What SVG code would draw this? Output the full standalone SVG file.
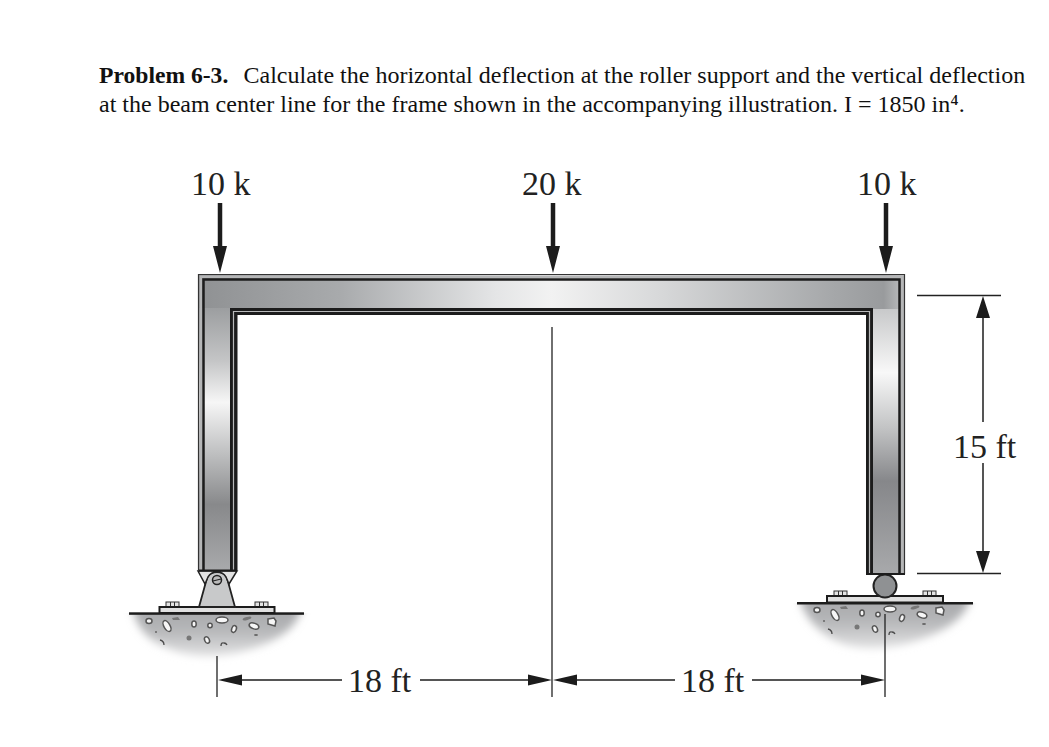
<svg xmlns="http://www.w3.org/2000/svg" width="1049" height="747" viewBox="0 0 1049 747">
<style>
text{font-family:"Liberation Serif","Times New Roman",serif;fill:#111}
.p{font-size:24px}
.b{font-size:23.6px;font-weight:bold}
.l{font-size:34px;fill:#222}
.d{stroke:#222;stroke-width:1.300;fill:none}
.dg{stroke:#555;stroke-width:2;fill:none}
.load{stroke:#1c1c1c;stroke-width:4.500;fill:none}
.ah{fill:#1c1c1c}
.st{fill:none;stroke:#4a4a4a;stroke-width:1.300}
.stf{fill:#f6f6f6;stroke:#555;stroke-width:1.500}
.bk{fill:#1c1c1c}
.bolt{fill:#e4e4e4;stroke:#333;stroke-width:1}
.soil{fill:url(#soilg);filter:url(#blur)}
</style>
<defs>
<linearGradient id="beam" x1="0" x2="1" y1="0" y2="0">
<stop offset="0" stop-color="#8f9193"/><stop offset=".2" stop-color="#a8aaac"/><stop offset=".42" stop-color="#e4e5e6"/><stop offset=".5" stop-color="#f2f2f2"/><stop offset=".65" stop-color="#d8d9da"/><stop offset=".9" stop-color="#a5a7a9"/><stop offset=".97" stop-color="#999b9d"/><stop offset="1" stop-color="#c0c1c2"/>
</linearGradient>
<linearGradient id="colL" gradientUnits="userSpaceOnUse" x1="0" x2="0" y1="308" y2="570">
<stop offset="0" stop-color="#9c9ea0"/><stop offset=".2" stop-color="#c4c5c6"/><stop offset=".36" stop-color="#f6f6f6"/><stop offset=".55" stop-color="#c0c1c2"/><stop offset=".75" stop-color="#88898b"/><stop offset="1" stop-color="#a8a9ab"/>
</linearGradient>
<linearGradient id="colR" gradientUnits="userSpaceOnUse" x1="0" x2="0" y1="309" y2="574">
<stop offset="0" stop-color="#c8c9ca"/><stop offset=".24" stop-color="#f8f8f8"/><stop offset=".45" stop-color="#c2c3c4"/><stop offset=".65" stop-color="#86878a"/><stop offset="1" stop-color="#a8a9ab"/>
</linearGradient>
<linearGradient id="soilg" x1="0" x2="0" y1="0" y2="1">
<stop offset="0" stop-color="#a4a5a8"/><stop offset=".5" stop-color="#b6b7b9"/><stop offset="1" stop-color="#e2e2e3"/>
</linearGradient>
<filter id="blur" x="-10%" y="-30%" width="120%" height="160%"><feGaussianBlur stdDeviation="4"/></filter>
<clipPath id="clipL"><rect x="120" y="613" width="195" height="60"/></clipPath>
<clipPath id="clipR"><rect x="790" y="603" width="195" height="60"/></clipPath>
<g id="stones">
<ellipse class="stf" cx="29" cy="91" rx="3" ry="2.500"/>
<ellipse class="stf" cx="47" cy="96" rx="3" ry="6" transform="rotate(-30 47 96)"/>
<path d="M52 88l6-1 2 3-7 0z" fill="#777"/>
<ellipse class="stf" cx="74" cy="94" rx="2.200" ry="3"/>
<circle class="stf" cx="90" cy="95.500" r="2.200"/>
<ellipse class="stf" cx="102" cy="90" rx="6" ry="3"/>
<ellipse class="stf" cx="114" cy="99" rx="2.300" ry="3.500" transform="rotate(20 114 99)"/>
<ellipse cx="127" cy="88.500" rx="4.500" ry="1.500" fill="#777" transform="rotate(-15 127 88.500)"/>
<ellipse class="stf" cx="134" cy="96" rx="5" ry="2.800" transform="rotate(20 134 96)"/>
<path class="stf" d="M148 89l6-1 2 3-1 5-7-2z"/>
<circle cx="36" cy="102" r="1" fill="#666"/>
<circle cx="69" cy="108" r="2.500" fill="#777"/>
<ellipse class="stf" cx="87" cy="110" rx="2.300" ry="3.400" transform="rotate(-25 87 110)"/>
<path class="st" d="M40 110q4 1 4 5M101 116q0-4 3-3 2 0 3 2"/>
<ellipse cx="136" cy="105" rx="2" ry="1" fill="#666"/>
</g>
<g id="bolt">
<rect class="bolt" x="0" y="0" width="13" height="5"/>
<path d="M4.500 0V5M8.500 0V5" stroke="#333" stroke-width="1"/>
</g>
</defs>
<g id="title">
<text class="b" x="99" y="83">Problem 6-3.</text>
<text class="p" x="243.500" y="83">Calculate the horizontal deflection at the roller support and the vertical deflection</text>
<text class="p" x="99" y="112">at the beam center line for the frame shown in the accompanying illustration. I = 1850 in⁴.</text>
</g>
<g id="support-left">
<g clip-path="url(#clipL)"><path class="soil" d="M132 605H302Q298 638 240 652Q190 664 152 640Q136 628 132 605Z"/></g>
<use href="#stones" x="120" y="530"/>
<use href="#bolt" x="166" y="602"/>
<use href="#bolt" x="255" y="602"/>
<rect x="129" y="612.300" width="175" height="2.500" class="bk"/>
<rect x="159.500" y="607" width="115" height="6" fill="#e0e0e0" stroke="#1c1c1c" stroke-width="2"/>
<path d="M199 607L207 578Q209 572 217 572Q225 572 227 578L235 607Z" fill="#c8c9ca" stroke="#222" stroke-width="1.800"/>
<path d="M198 571H237L229 584L226 577Q223 572 217 572Q211 572 208 577L205 584Z" fill="#e2e2e2" stroke="#222" stroke-width="1.500"/>
<circle cx="217" cy="580" r="4.500" fill="#bbb" stroke="#222" stroke-width="1.500"/>
<path d="M213 581L221 579" stroke="#222" stroke-width="1.200"/>
</g>
<g id="support-right">
<g clip-path="url(#clipR)"><path class="soil" d="M799 595H971Q966 628 905 644Q850 656 822 632Q804 618 799 595Z"/></g>
<use href="#stones" x="788" y="519"/>
<use href="#bolt" x="834" y="591"/>
<use href="#bolt" x="923" y="591"/>
<rect x="797" y="602" width="176" height="2.500" class="bk"/>
<rect x="827" y="596" width="116" height="6.500" fill="#e0e0e0" stroke="#1c1c1c" stroke-width="2"/>
<circle cx="885" cy="586" r="11.500" fill="#8f9193" stroke="#222" stroke-width="2"/>
</g>
<g id="frame">
<rect x="198" y="274" width="707" height="35" fill="url(#beam)"/>
<rect x="199" y="308" width="38" height="262" fill="url(#colL)"/>
<rect x="866" y="309" width="39" height="265" fill="url(#colR)"/>
<path d="M199.500 570V275.500H904V574H901V278H202V570Z" fill="#b5b6b7"/>
<path d="M198.500 570V274.500H904.500V574" fill="none" stroke="#333" stroke-width="1.200"/>
<path d="M203.500 570V279.500H899.500V574" fill="none" stroke="#1c1c1c" stroke-width="2.500"/>
<rect x="230" y="308" width="643" height="7" fill="#1c1c1c"/>
<rect x="230" y="308" width="7.500" height="262" fill="#1c1c1c"/>
<rect x="866" y="308" width="7" height="266" fill="#1c1c1c"/>
<path d="M233.500 570V311.500H869.500V574" fill="none" stroke="#b8b9ba" stroke-width="1.200"/>
<path d="M198.500 570.500H237M866 574H905" stroke="#1c1c1c" stroke-width="2" fill="none"/>
</g>
<g id="connectors">
<path class="load" d="M220 203V248M553 203V248M886 203V248"/>
<path class="ah" d="M213 246H227L220 273ZM546 246H560L553 273ZM879 246H893L886 273Z"/>
<path class="d" d="M552 327V697"/>
<path class="d" d="M217 656V697M885 614V697"/>
<path class="d" d="M917 295.500H1001M917 573.500H1001"/>
<path class="dg" d="M983 316V422M983 463V552"/>
<path class="ah" d="M983 296L990 318H976ZM983 573L990 551H976Z"/>
<path class="dg" d="M240 680H342M420 680H532M574 680H675M752 680H866"/>
<path class="ah" d="M218 680L242 674.500V685.500ZM552 680L528 674.500V685.500ZM553 680L577 674.500V685.500ZM885 680L861 674.500V685.500Z"/>
</g>
<g id="labels">
<text class="l" x="191" y="195">10 k</text>
<text class="l" x="522" y="195">20 k</text>
<text class="l" x="857" y="195">10 k</text>
<text class="l" x="953" y="458">15 ft</text>
<text class="l" x="348" y="692">18 ft</text>
<text class="l" x="681" y="692">18 ft</text>
</g>
</svg>
